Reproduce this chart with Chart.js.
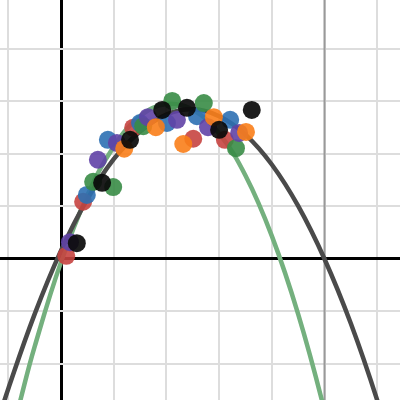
<!DOCTYPE html>
<html>
<head>
<meta charset="utf-8">
<script src="https://cdn.jsdelivr.net/npm/chart.js@4.4.0/dist/chart.umd.min.js"></script>
<style>
  html, body { margin: 0; padding: 0; background: #fff; }
  #wrap { width: 400px; height: 400px; }
</style>
</head>
<body>
<div id="wrap"><canvas id="chart" width="400" height="400"></canvas></div>
<script>
// Scatter samples, one array per colour (x, y in grid units)
const redPts = [[0.10, 0.06], [0.42, 1.09], [1.37, 2.50], [2.51, 2.29], [3.11, 2.27]];
const bluePts = [[0.49, 1.22], [0.89, 2.27], [1.50, 2.59], [2.01, 2.59], [2.58, 2.72], [3.21, 2.65]];
const greenPts = [[0.61, 1.47], [0.99, 1.37], [1.56, 2.53], [2.11, 3.01], [2.71, 2.97], [3.32, 2.11]];
const purplePts = [[0.17, 0.32], [0.70, 1.89], [1.06, 2.21], [1.65, 2.70], [2.20, 2.65], [2.79, 2.51], [3.38, 2.40]];
const orangePts = [[1.20, 2.10], [1.80, 2.51], [2.32, 2.19], [2.90, 2.70], [3.51, 2.42]];
const blackPts = [[0.30, 0.30], [0.78, 1.45], [1.31, 2.27], [1.92, 2.84], [2.39, 2.88], [3.00, 2.46], [3.62, 2.84]];

// Curves
const darkCurveX = [-1.2, -1, -0.5, 0, 0.5, 1, 1.5, 2, 2.5, 3, 3.5, 4, 4.5, 5, 5.5, 6, 6.5];
const darkCurveY = [-3.10, -2.47, -1.05, 0.16, 1.14, 1.90, 2.43, 2.75, 2.85, 2.72, 2.37, 1.80, 1.01, 0, -1.23, -2.69, -4.37];
const greenCurveX = [-1, -0.75, -0.5, 0, 0.5, 1, 1.5, 2, 2.5, 3, 3.5, 4, 4.5, 5, 5.5];
const greenCurveY = [-3.63, -2.61, -1.67, -0.06, 1.21, 2.14, 2.72, 2.95, 2.84, 2.39, 1.59, 0.44, -1.05, -2.89, -5.07];

// Vertical marker line
const markerX = [5, 5];
const markerY = [-3, 5];

const toXY = (xs, ys) => xs.map((x, i) => ({ x: x, y: ys[i] }));
const pairs = pts => pts.map(p => ({ x: p[0], y: p[1] }));

function dots(data, color) {
    return {
        data: pairs(data),
        backgroundColor: color,
        borderWidth: 0,
        pointRadius: 9,
        pointHoverRadius: 9,
        showLine: false,
        order: 0
    };
}

const gridLines = {
    drawTicks: false,
    color: c => c.tick.value === 0 ? '#000' : '#dddddd',
    lineWidth: c => c.tick.value === 0 ? 3 : 2
};

const ctx = document.getElementById('chart').getContext('2d');
new Chart(ctx, {
    type: 'scatter',
    data: {
        datasets: [
            dots(blackPts, 'rgba(10, 10, 10, 0.92)'),
            dots(orangePts, 'rgba(250, 126, 25, 0.9)'),
            dots(purplePts, 'rgba(96, 66, 166, 0.9)'),
            dots(greenPts, 'rgba(56, 140, 70, 0.9)'),
            dots(bluePts, 'rgba(45, 112, 179, 0.9)'),
            dots(redPts, 'rgba(199, 68, 64, 0.9)'),
            {
                data: toXY(darkCurveX, darkCurveY),
                showLine: true,
                borderColor: '#4a4a4a',
                borderWidth: 4.5,
                pointRadius: 0,
                tension: 0.4,
                order: 1
            },
            {
                data: toXY(greenCurveX, greenCurveY),
                showLine: true,
                borderColor: '#74b07e',
                borderWidth: 4.5,
                pointRadius: 0,
                tension: 0.4,
                order: 2
            },
            {
                data: toXY(markerX, markerY),
                showLine: true,
                borderColor: '#999999',
                borderWidth: 2,
                pointRadius: 0,
                order: 3
            }
        ]
    },
    options: {
        responsive: false,
        animation: false,
        layout: { padding: 0, autoPadding: false },
        plugins: {
            legend: { display: false },
            tooltip: { enabled: false }
        },
        scales: {
            x: {
                type: 'linear',
                min: -1.1575,
                max: 6.4326,
                ticks: { display: false, stepSize: 1, includeBounds: false, padding: 0 },
                border: { display: false },
                grid: gridLines,
                afterFit: s => { s.height = 0; }
            },
            y: {
                type: 'linear',
                min: -2.686,
                max: 4.933,
                ticks: { display: false, stepSize: 1, includeBounds: false, padding: 0 },
                border: { display: false },
                grid: gridLines,
                afterFit: s => { s.width = 0; }
            }
        }
    }
});
</script>
</body>
</html>
